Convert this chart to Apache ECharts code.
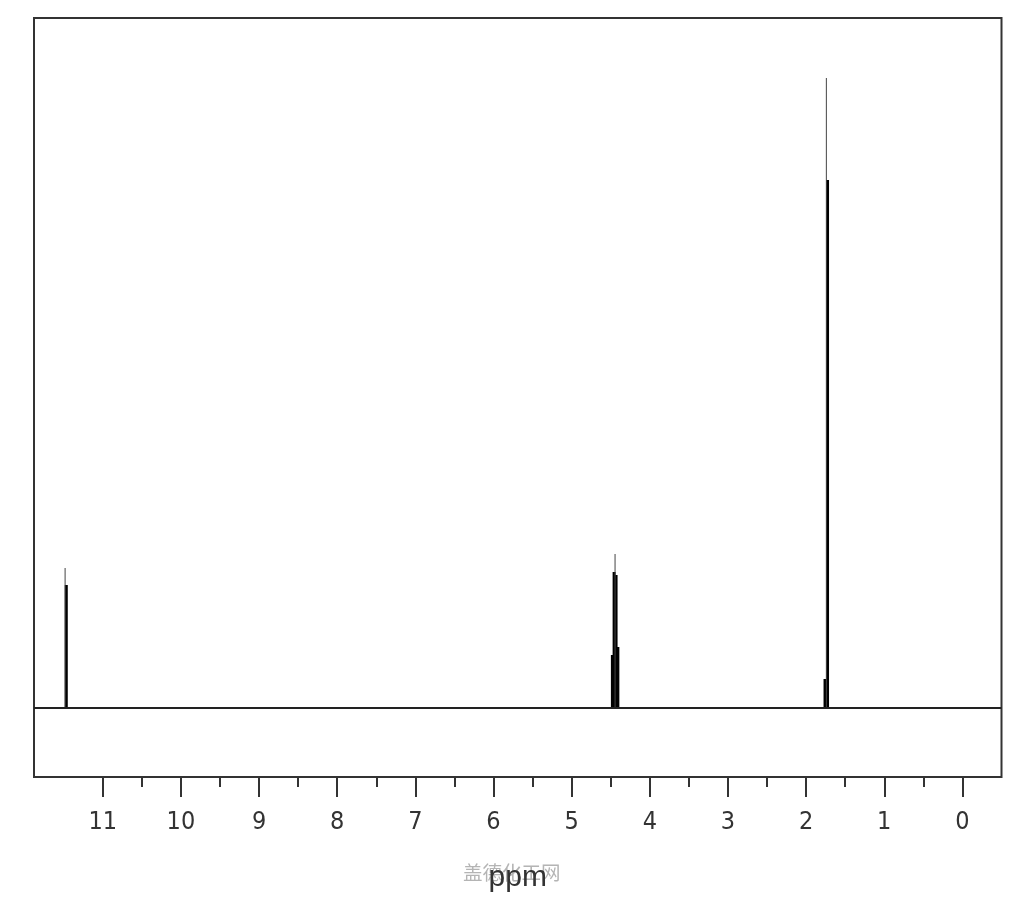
<!DOCTYPE html>
<html>
<head>
<meta charset="utf-8">
<script src="https://cdn.jsdelivr.net/npm/echarts@6/dist/echarts.min.js"></script>
<style>html,body{margin:0;padding:0;background:#fff}#c{width:1024px;height:900px}</style>
</head>
<body>
<div id="c"></div>
<script>
// Axis range (ppm), ticks
var xLeft = 11.88;
var xRight = -0.50;
var majorTicks = [0, 1, 2, 3, 4, 5, 6, 7, 8, 9, 10, 11];
var minorTicks = [0.5, 1.5, 2.5, 3.5, 4.5, 5.5, 6.5, 7.5, 8.5, 9.5, 10.5];
var yMin = -69;
var yMax = 690;

// Broad (thick) spectral lines: chemical shift (ppm) and intensity
var thickPpm    = [11.467, 4.479, 4.457, 4.432, 4.409, 1.758, 1.726];
var thickHeight = [123,    53,    136,   133,   61,    29,    528];

// Narrow line tips: chemical shift (ppm) and intensity
var thinPpm    = [11.482, 4.445, 1.741];
var thinHeight = [140,    154,   630];

var watermark = '盖德化工网';

function pairs(xs, ys) { return xs.map(function (x, i) { return [x, ys[i]]; }); }

function stick(width, color) {
  return function (params, api) {
    var p0 = api.coord([api.value(0), 0]);
    var p1 = api.coord([api.value(0), api.value(1)]);
    return {
      type: 'line',
      shape: { x1: p0[0], y1: p0[1], x2: p1[0], y2: p1[1] },
      style: { stroke: color, lineWidth: width }
    };
  };
}

var chart = echarts.init(document.getElementById('c'), null, { renderer: 'canvas' });
var labelFont = "'Liberation Sans Narrow', 'DejaVu Sans Condensed', 'Liberation Sans', sans-serif";
chart.setOption({
  animation: false,
  backgroundColor: '#fff',
  grid: { left: 34, right: 22.5, top: 18, bottom: 123, show: true, borderColor: '#333', borderWidth: 2, backgroundColor: 'transparent' },
  xAxis: [{
    type: 'value', inverse: true, min: xRight, max: xLeft, position: 'bottom',
    axisLine: { show: false, onZero: false }, splitLine: { show: false },
    axisTick: { show: true, customValues: majorTicks, length: 20, lineStyle: { color: '#333', width: 2 } },
    axisLabel: { show: true, customValues: majorTicks, margin: 33, fontSize: 25, color: '#333', fontFamily: labelFont,
      formatter: function (v) { return String(v); } },
    name: 'ppm', nameLocation: 'middle', nameGap: 86,
    nameTextStyle: { fontSize: 30, color: '#333', fontFamily: "'Liberation Sans', sans-serif" }
  }, {
    type: 'value', inverse: true, min: xRight, max: xLeft, position: 'bottom',
    axisLine: { show: false, onZero: false }, splitLine: { show: false },
    axisTick: { show: true, customValues: minorTicks, length: 10, lineStyle: { color: '#333', width: 2 } },
    axisLabel: { show: false }
  }],
  yAxis: { type: 'value', min: yMin, max: yMax, show: false, splitLine: { show: false } },
  graphic: [{
    type: 'text', left: 463, top: 863, z: -1,
    style: { text: watermark, fontSize: 19.5, fill: '#b4b4b4', fontFamily: "'Noto Sans CJK SC', sans-serif" }
  }],
  series: [{
    type: 'custom', name: 'lines', xAxisIndex: 0,
    data: pairs(thickPpm, thickHeight), encode: { x: 0, y: 1 },
    renderItem: stick(3, '#000'),
    markLine: {
      silent: true, symbol: 'none', label: { show: false },
      lineStyle: { color: '#222', width: 2, type: 'solid' },
      data: [{ yAxis: 0 }]
    }
  }, {
    type: 'custom', name: 'tips', xAxisIndex: 0,
    data: pairs(thinPpm, thinHeight), encode: { x: 0, y: 1 },
    renderItem: stick(1, '#444')
  }]
});
</script>
</body>
</html>
